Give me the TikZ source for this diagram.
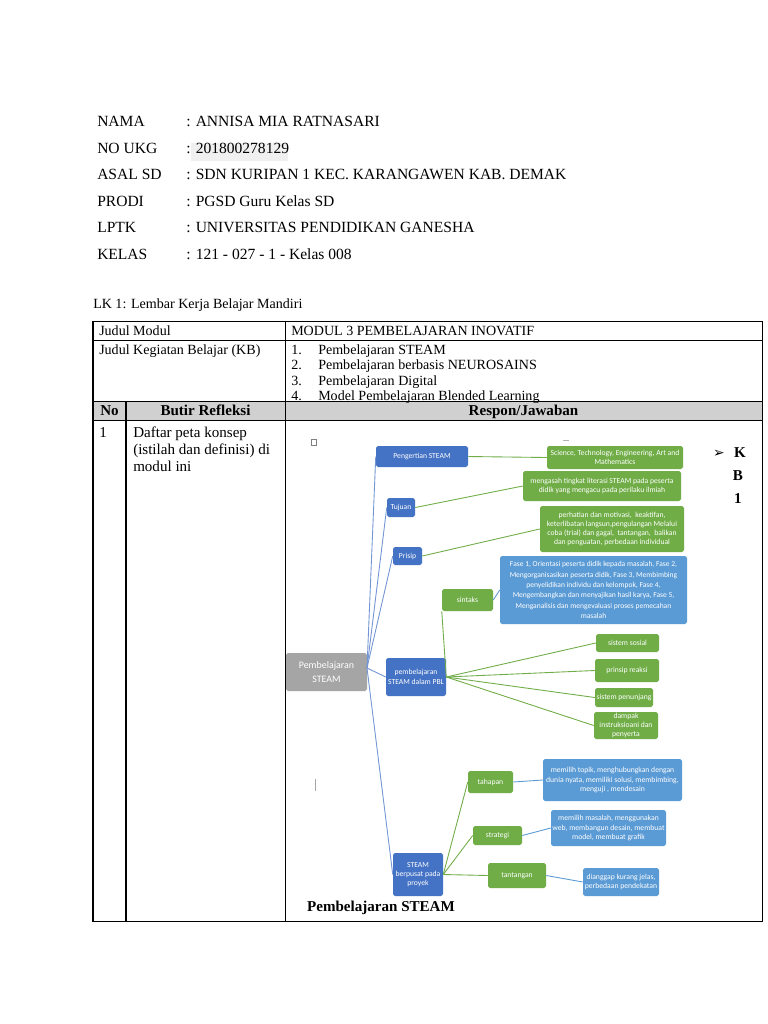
\documentclass[tikz,border=0pt]{standalone}
\usepackage{fontspec}
\setmainfont{Liberation Serif}
\newfontfamily\mapfont{Carlito}
\newfontfamily\symfont{DejaVu Sans}
\definecolor{dblue}{HTML}{4472C4}
\definecolor{lblue}{HTML}{5B9BD5}
\definecolor{mgreen}{HTML}{70AD47}
\definecolor{mgray}{HTML}{A5A5A5}
\definecolor{hdrgray}{HTML}{D0D0D0}
\tikzset{
  txt/.style={anchor=base west, inner sep=0pt, font=\fontsize{12}{14}\selectfont},
  htxt/.style={anchor=base west, inner sep=0pt, font=\fontsize{12.4}{14}\selectfont},
  stxt/.style={anchor=base west, inner sep=0pt, font=\fontsize{11.2}{13}\selectfont},
  btxt/.style={anchor=base, inner sep=0pt, font=\fontsize{12}{14}\selectfont\bfseries},
  mapbox/.style={rounded corners=1.5pt, inner sep=0pt, text=white, align=center,
     font=\mapfont\fontsize{6.1}{7.4}\selectfont},
  bluebox/.style={mapbox, fill=dblue},
  lbluebox/.style={mapbox, fill=lblue},
  greenbox/.style={mapbox, fill=mgreen},
  graybox/.style={mapbox, fill=mgray, font=\mapfont\fontsize{7.9}{10.5}\selectfont},
  bline/.style={draw=dblue!75, line width=0.7pt},
  gline/.style={draw=mgreen, line width=0.7pt},
  lline/.style={draw=lblue, line width=0.7pt},
  tline/.style={draw=black, line width=0.8pt}
}
% style, name, x1, y1, x2, y2, text
\newcommand\mapnode[7]{%
  \pgfmathsetmacro\mwid{(#5-#3)*0.797}%
  \pgfmathsetmacro\mhei{(#6-#4)*0.797}%
  \node[#1, minimum width=\mwid pt, minimum height=\mhei pt] (#2) at ({(#3+#5)/2},{(#4+#6)/2}) {#7};}
\begin{document}
\begin{tikzpicture}[x=0.797pt,y=-0.797pt]
\useasboundingbox[fill=white] (0,0) rectangle (768,1024);

% ---------- header ----------
\fill[gray!12] (191,143) rectangle (288,161);
\node[htxt] (l1) at (97,126) {NAMA};
\node[htxt] (v1) at (186,126) {: ANNISA MIA RATNASARI};
\node[htxt] (l2) at (97,153) {NO UKG};
\node[htxt] (v2) at (186,153) {: 201800278129};
\node[htxt] (l3) at (97,179) {ASAL SD};
\node[htxt] (v3) at (186,179) {: SDN KURIPAN 1 KEC. KARANGAWEN KAB. DEMAK};
\node[htxt] (l4) at (97,206) {PRODI};
\node[htxt] (v4) at (186,206) {: PGSD Guru Kelas SD};
\node[htxt] (l5) at (97,232) {LPTK};
\node[htxt] (v5) at (186,232) {: UNIVERSITAS PENDIDIKAN GANESHA};
\node[htxt] (l6) at (97,259) {KELAS};
\node[htxt] (v6) at (186,259) {: 121 - 027 - 1 - Kelas 008};

\node[stxt] (lk) at (93,308) {LK 1: Lembar Kerja Belajar Mandiri};

% ---------- table ----------
\fill[hdrgray] (93,401) rectangle (762,420);
\draw[tline] (93,321) rectangle (762,921);
\draw[tline] (93,340) -- (762,340);
\draw[tline] (93,401) -- (762,401);
\draw[tline] (93,420) -- (762,420);
\draw[tline] (285,321) -- (285,921);
\draw[tline] (126,401) -- (126,921);

\node[stxt] (jm) at (99,335) {Judul Modul};
\node[stxt] (jmv) at (291,335) {MODUL 3 PEMBELAJARAN INOVATIF};
\node[stxt] (jk) at (99,354) {Judul Kegiatan Belajar (KB)};
\node[stxt] (n1) at (291,354) {1.};
\node[stxt] (k1) at (318,354) {Pembelajaran STEAM};
\node[stxt] (n2) at (291,369.5) {2.};
\node[stxt] (k2) at (318,369.5) {Pembelajaran berbasis NEUROSAINS};
\node[stxt] (n3) at (291,385) {3.};
\node[stxt] (k3) at (318,385) {Pembelajaran Digital};
\node[stxt] (n4) at (291,400) {4.};
\node[stxt] (k4) at (318,400) {Model Pembelajaran Blended Learning};

\node[btxt] (hno) at (109.5,415) {No};
\node[btxt] (hbr) at (205.5,415) {Butir Refleksi};
\node[btxt] (hrj) at (523.5,415) {Respon/Jawaban};

\node[txt] (r1) at (99,437) {1};
\node[txt] (d1) at (133,437) {Daftar peta konsep};
\node[txt] (d2) at (133,454) {(istilah dan definisi) di};
\node[txt] (d3) at (133,471) {modul ini};

% KB1
\node[anchor=base, inner sep=0pt, font=\symfont\fontsize{11}{12}\selectfont] (arr) at (719,457) {➢};
\node[btxt] (kk) at (740,457) {K};
\node[btxt] (kb) at (738,480) {B};
\node[btxt] (k1b) at (738,503) {1};

% small marks
\draw[gray, line width=0.5pt] (311,439) rectangle (316,445);
\draw[gray!70, line width=0.6pt] (315,779) -- (315,791);
\draw[gray!60, line width=0.6pt] (563,440) -- (569,440);

% ---------- concept map nodes ----------
\mapnode{graybox}{root}{286}{653}{367}{691}{Pembelajaran\\STEAM}

\mapnode{bluebox}{peng}{376}{446}{468}{467}{Pengertian STEAM}
\mapnode{bluebox}{tuj}{387}{498}{415}{517}{Tujuan}
\mapnode{bluebox}{pri}{393}{547}{422}{565}{Prisip}
\mapnode{bluebox}{pbl}{386}{658}{446}{696}{pembelajaran\\STEAM dalam PBL}
\mapnode{bluebox}{proy}{393}{853}{443}{896}{STEAM\\berpusat pada\\proyek}

\mapnode{greenbox}{sci}{547}{446}{683}{469}{Science, Technology, Engineering, Art and\\Mathematics}
\mapnode{greenbox}{meng}{523}{471}{681}{501}{mengasah tingkat literasi STEAM pada peserta\\didik yang mengacu pada perilaku ilmiah}
\mapnode{greenbox}{perh}{540}{506}{684}{552}{perhatian dan motivasi, \ keaktifan,\\keterlibatan langsun,pengulangan Melalui\\coba (trial) dan gagal, \ tantangan, \ balikan\\dan penguatan, perbedaan individual}
\mapnode{greenbox}{sint}{442}{589}{493}{611}{sintaks}
\mapnode{lbluebox, font=\mapfont\fontsize{6}{8.2}\selectfont}{fase}{500}{556}{687}{624}{Fase 1, Orientasi peserta didik kepada masalah, Fase 2,\\Mengorganisasikan peserta didik, Fase 3, Membimbing\\penyelidikan individu dan kelompok, Fase 4,\\Mengembangkan dan menyajikan hasil karya, Fase 5,\\Menganalisis dan mengevaluasi proses pemecahan\\masalah}

\mapnode{greenbox}{sos}{596}{634}{659}{652}{sistem sosial}
\mapnode{greenbox}{reak}{595}{659}{659}{682}{prinsip reaksi}
\mapnode{greenbox}{penu}{595}{688}{653}{707}{sistem penunjang}
\mapnode{greenbox}{damp}{594}{712}{658}{739}{dampak\\instruksioani dan\\penyerta}

\mapnode{greenbox}{tah}{468}{771}{513}{793}{tahapan}
\mapnode{lbluebox}{topik}{543}{759}{682}{801}{memilih topik, menghubungkan dengan\\dunia nyata, memiliki solusi, membimbing,\\menguji , mendesain}
\mapnode{greenbox}{strat}{473}{826}{522}{845}{strategi}
\mapnode{lbluebox}{masal}{551}{810}{666}{846}{memilih masalah, menggunakan\\web, membangun desain, membuat\\model, membuat grafik}
\mapnode{greenbox}{tant}{488}{863}{546}{888}{tantangan}
\mapnode{lbluebox}{diang}{583}{868}{659}{896}{dianggap kurang jelas,\\perbedaan pendekatan}

\node[btxt] (cap) at (381,911) {Pembelajaran STEAM};

% ---------- connectors ----------
\coordinate (hub) at (367,668);
\draw[bline] (hub) -- (peng.west);
\draw[bline] (hub) -- (tuj.west);
\draw[bline] (hub) -- (pri.west);
\draw[bline] (hub) -- (pbl.west);
\draw[bline] (hub) -- (proy.west);

\draw[gline] (peng.east) -- (sci.west);
\draw[gline] (tuj.east) -- (meng.west);
\draw[gline] (pri.east) -- (perh.west);
\draw[lline] (sint.east) -- (fase.west);

\draw[gline] (pbl.east) -- (sint.south west);
\draw[gline] (pbl.east) -- (sos.west);
\draw[gline] (pbl.east) -- (reak.west);
\draw[gline] (pbl.east) -- (penu.west);
\draw[gline] (pbl.east) -- (damp.west);

\draw[gline] (proy.east) -- (tah.west);
\draw[gline] (proy.east) -- (strat.west);
\draw[gline] (proy.east) -- (tant.west);
\draw[lline] (tah.east) -- (topik.west);
\draw[lline] (strat.east) -- (masal.west);
\draw[lline] (tant.east) -- (diang.west);
\end{tikzpicture}
\end{document}
